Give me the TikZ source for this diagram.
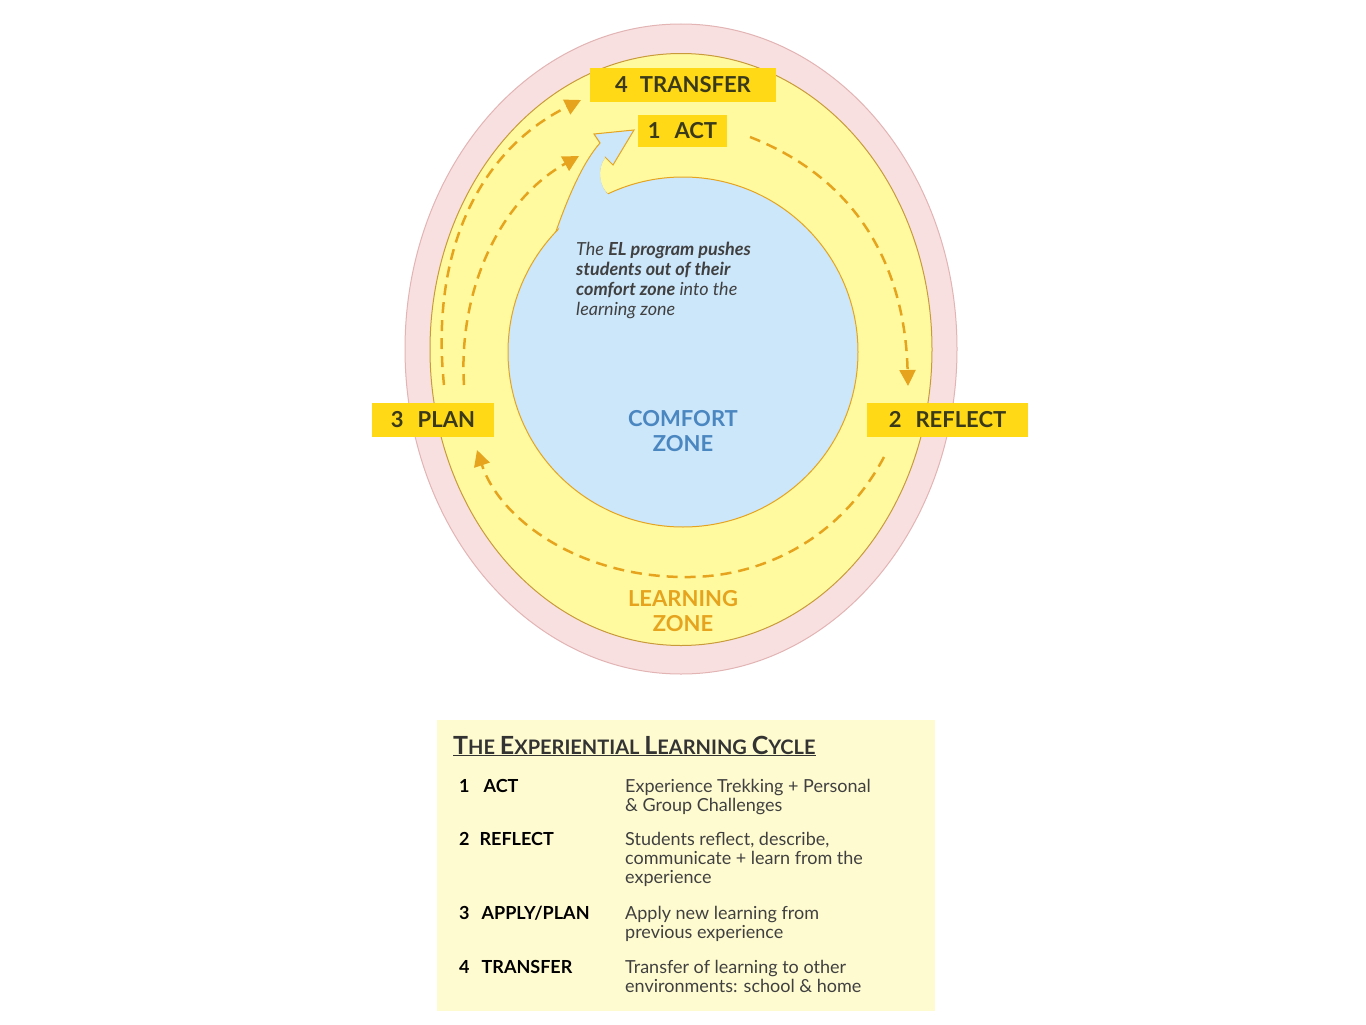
\documentclass[tikz,border=0pt]{standalone}
\usepackage{fontspec}
\setmainfont{Lato}
\usetikzlibrary{arrows.meta,shapes.geometric}
\definecolor{pinkf}{HTML}{F9E0E0}
\definecolor{pinkd}{HTML}{E2B4B4}
\definecolor{yelf}{HTML}{FFFAA0}
\definecolor{yeld}{HTML}{C89A3A}
\definecolor{bluef}{HTML}{CCE6FA}
\definecolor{orng}{HTML}{E6A41E}
\definecolor{lbl}{HTML}{FFD816}
\definecolor{dtext}{HTML}{3A3A1A}
\definecolor{cblue}{HTML}{4A86C0}
\definecolor{tbl}{HTML}{FFFBD0}
\tikzset{
 lab/.style={fill=lbl,text=dtext,font=\fontsize{22}{24}\selectfont\bfseries,inner sep=0pt,anchor=center},
 cyclearrow/.style={orng,line width=2.5pt,dash pattern=on 11pt off 7pt,-{Triangle[length=16pt,width=16pt]}},
 rowh/.style={anchor=north west,font=\fontsize{18}{18}\selectfont\bfseries,text=black,inner sep=0pt},
 rowt/.style={anchor=north west,font=\fontsize{18}{19}\selectfont,text=black!75,inner sep=0pt,align=left},
}
\begin{document}
\begin{tikzpicture}[x=1pt,y=-1pt]
\useasboundingbox (0,0) rectangle (1366,1025);
\fill[white] (0,0) rectangle (1366,1025);
\node[ellipse,draw=pinkd,fill=pinkf,line width=1pt,minimum width=552pt,minimum height=650pt,inner sep=0pt] (outer) at (681,349) {};
\draw[draw=yeld,fill=yelf,line width=1pt] (681,349.5) ellipse [x radius=251,y radius=296];
\coordinate (yel) at (681,349.5);
% blue arrow
\fill[bluef,draw=orng,line width=1pt] (553,240) .. controls (570,190) and (585,160) .. (600,143) -- (594,134) -- (634,130) -- (613,165) -- (605,157) .. controls (596,168) and (598,188) .. (609,195) .. controls (620,188) and (640,180) .. (683,178) -- (683,260) -- cycle;
\node[circle,draw=orng,fill=bluef,line width=1pt,minimum size=350pt,inner sep=0pt] (comfort) at (683,352) {};
\fill[bluef] (556,238) .. controls (571,190) and (586,160) .. (601,144) -- (605,158) .. controls (597,168) and (599,188) .. (610,196) .. controls (620,190) and (640,182) .. (683,180) -- (683,260) -- cycle;
\node[anchor=north west,align=left,inner sep=0pt,text=black!75,font=\fontsize{18}{20}\selectfont\itshape] (push) at (576,242) {The \textbf{EL program pushes}\\\textbf{students out of their}\\\textbf{comfort zone} into the\\learning zone};
\node[text=cblue,font=\fontsize{22}{25}\selectfont\bfseries,align=center] (cz) at (683,431) {COMFORT\\ZONE};
\node[text=orng,font=\fontsize{22}{25}\selectfont\bfseries,align=center] (lz) at (683,611) {LEARNING\\ZONE};
% labels
\node[lab,minimum width=186pt,minimum height=34pt] (transfer) at (683,85) {4\hspace{12pt}TRANSFER};
\node[lab,minimum width=89pt,minimum height=32pt] (act) at (682.5,131) {1\hspace{14pt}ACT};
\node[lab,minimum width=122pt,minimum height=34pt] (plan) at (433,420) {3\hspace{14pt}PLAN};
\node[lab,minimum width=161pt,minimum height=34pt] (reflect) at (947.5,420) {2\hspace{14pt}REFLECT};
% dashed arrows
\draw[cyclearrow] (750,137) .. controls (860,180) and (905,270) .. (908,386);
\draw[cyclearrow] (884,457) .. controls (840,540) and (760,578) .. (685,577) .. controls (580,577) and (500,520) .. (477,450);
\draw[cyclearrow] (464,385) .. controls (458,290) and (500,200) .. (579,156);
\draw[cyclearrow] (444,385) .. controls (430,250) and (480,150) .. (581,100);
% table
\fill[tbl] (437,720) rectangle (935,1011);
\node[anchor=west,inner sep=0pt,text=black!80,font=\fontsize{25}{25}\selectfont\bfseries] (title) at (453,746) {\underline{T\fontsize{20}{20}\selectfont HE \fontsize{25}{25}\selectfont E\fontsize{20}{20}\selectfont XPERIENTIAL \fontsize{25}{25}\selectfont L\fontsize{20}{20}\selectfont EARNING \fontsize{25}{25}\selectfont C\fontsize{20}{20}\selectfont YCLE}};
\node[rowh] (h1) at (459,779) {1\hspace{14pt}ACT};
\node[rowt] (t1) at (625,779) {Experience Trekking + Personal\\\& Group Challenges};
\node[rowh] (h2) at (459,832) {2\hspace{10pt}REFLECT};
\node[rowt] (t2) at (625,832) {Students reflect, describe,\\communicate + learn from the\\experience};
\node[rowh] (h3) at (459,906) {3\hspace{12pt}APPLY/PLAN};
\node[rowt] (t3) at (625,906) {Apply new learning from\\previous experience};
\node[rowh] (h4) at (459,960) {4\hspace{12pt}TRANSFER};
\node[rowt] (t4) at (625,960) {Transfer of learning to other\\environments: school \& home};
\end{tikzpicture}
\end{document}
